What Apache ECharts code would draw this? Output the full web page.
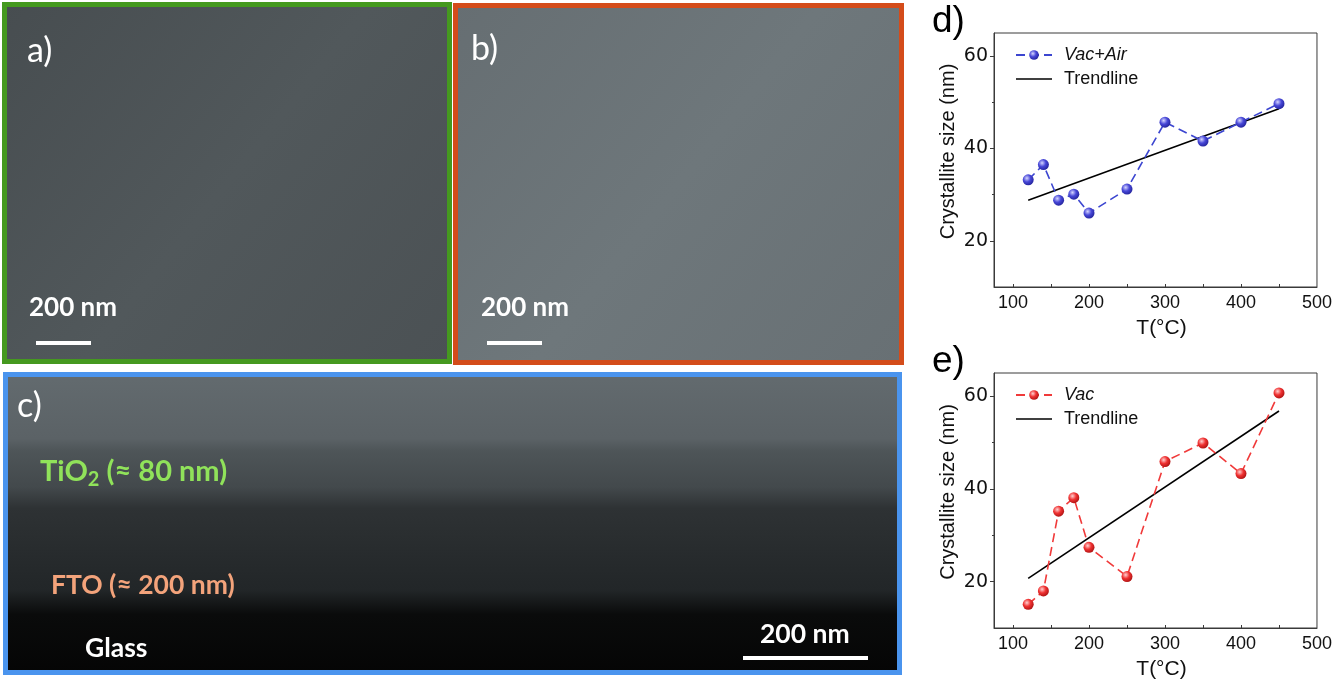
<!DOCTYPE html>
<html>
<head>
<meta charset="utf-8">
<script src="https://cdn.jsdelivr.net/npm/echarts@6/dist/echarts.min.js"></script>
<style>
html,body{margin:0;padding:0;background:#fff;}
#chart{width:1335px;height:681px;}
</style>
</head>
<body>
<div id="chart"></div>
<script>
// ---- Data ----
const temperatures = [120, 140, 160, 180, 200, 250, 300, 350, 400, 450];
const vacAirSize = [33.2, 36.5, 28.8, 30.1, 26.0, 31.2, 45.7, 41.6, 45.7, 49.7];
const vacSize = [15.1, 18.0, 35.2, 38.1, 27.4, 21.1, 45.9, 49.9, 43.3, 60.7];
const trendVacAirX = [120, 450];
const trendVacAirY = [28.8, 48.6];
const trendVacX = [120, 450];
const trendVacY = [20.7, 56.8];
const xLabelValues = [100, 200, 300, 400, 500];
const xTickValues = [100, 150, 200, 250, 300, 350, 400, 450];
const yLabelValues = [20, 40, 60];
const yMinorTicks = [30, 50];

const pairs = (xs, ys) => xs.map((x, i) => [x, ys[i]]);

const chart = echarts.init(document.getElementById('chart'), null, {renderer: 'canvas'});
const AX = '#3a3a3a';
const FONT = '"Liberation Sans", Arial, sans-serif';
const YFONT = '"DejaVu Sans", sans-serif';
const LBL = '"Lato", "Open Sans", sans-serif';

function ballGradient(light, mid, dark) {
  return {type: 'radial', x: 0.38, y: 0.35, r: 0.75,
    colorStops: [{offset: 0, color: light}, {offset: 0.45, color: mid}, {offset: 1, color: dark}]};
}

function xAxis(g) {
  return {
    type: 'value', gridIndex: g, min: 75, max: 500,
    axisLine: {show: true, lineStyle: {color: AX, width: 1}},
    axisTick: {show: true, inside: true, length: 3, customValues: xTickValues, lineStyle: {color: AX}},
    axisLabel: {customValues: xLabelValues, fontSize: 18, color: '#111', fontFamily: FONT, margin: 7},
    splitLine: {show: false},
    name: 'T(°C)', nameLocation: 'middle', nameGap: 31,
    nameTextStyle: {fontSize: 21, color: '#111', fontFamily: FONT, padding: [0, 0, 0, 12]}
  };
}
function yAxes(g) {
  return [{
    type: 'value', gridIndex: g, min: 10, max: 65, position: 'left',
    axisLine: {show: true, lineStyle: {color: AX, width: 1}},
    axisTick: {show: true, inside: false, length: 4, customValues: yLabelValues, lineStyle: {color: AX}},
    axisLabel: {customValues: yLabelValues, fontSize: 19, color: '#111', fontFamily: YFONT, margin: 6},
    splitLine: {show: false},
    name: 'Crystallite size (nm)', nameLocation: 'middle', nameGap: 36,
    nameTextStyle: {fontSize: 20, color: '#111', fontFamily: FONT, padding: [0, 0, 0, 17]}
  }, {
    type: 'value', gridIndex: g, min: 10, max: 65, position: 'left', offset: 0,
    axisLine: {show: false},
    axisTick: {show: true, inside: false, length: 2, customValues: yMinorTicks, lineStyle: {color: AX}},
    axisLabel: {show: false},
    splitLine: {show: false}
  }];
}

function dataSeries(name, xi, yi, ys, lineColor, ball) {
  return {
    name: name, type: 'line', xAxisIndex: xi, yAxisIndex: yi,
    data: pairs(temperatures, ys),
    symbol: 'circle', symbolSize: 11,
    lineStyle: {color: lineColor, width: 1.6, type: [9, 5]},
    itemStyle: {color: ball, borderWidth: 0},
    z: 3
  };
}
function trendSeries(xi, yi, xs, ys) {
  return {
    name: 'Trendline', type: 'line', xAxisIndex: xi, yAxisIndex: yi,
    data: pairs(xs, ys), symbol: 'none',
    lineStyle: {color: '#000', width: 1.6, type: 'solid'},
    itemStyle: {color: '#000'}, z: 2
  };
}

const blueBall = ballGradient('#d6d6ff', '#4848d8', '#1c1c90');
const redBall = ballGradient('#ffd0d0', '#f03232', '#a00c0c');

// Decorative panel elements (SEM image frames and labels)
function panelText(x, y, text, size, color, bold) {
  return {
    type: 'text', x: x, y: y, silent: true, z: 20,
    style: {text: text, fill: color, fontSize: size, fontFamily: LBL,
      fontWeight: bold ? 'bold' : 'normal', verticalAlign: 'middle', align: 'left'}
  };
}
function bar(x1, x2, y) {
  return {type: 'rect', silent: true, z: 20, shape: {x: x1, y: y - 2, width: x2 - x1, height: 4}, style: {fill: '#fff'}};
}
const gradA = {type: 'linear', x: 0, y: 0, x2: 1, y2: 1, colorStops: [
  {offset: 0, color: '#474d50'}, {offset: 0.5, color: '#51585b'}, {offset: 1, color: '#4b5154'}]};
const gradB = {type: 'linear', x: 0, y: 0, x2: 1, y2: 1, colorStops: [
  {offset: 0, color: '#666e72'}, {offset: 0.5, color: '#6e777b'}, {offset: 1, color: '#687074'}]};
const gradC = {type: 'linear', x: 0, y: 0, x2: 0, y2: 1, colorStops: [
  {offset: 0, color: '#636b6f'}, {offset: 0.22, color: '#5b6266'}, {offset: 0.26, color: '#4e5558'},
  {offset: 0.38, color: '#43494c'}, {offset: 0.45, color: '#2e3234'}, {offset: 0.72, color: '#222628'},
  {offset: 0.8, color: '#0a0b0b'}, {offset: 1, color: '#050505'}]};

const graphics = [
  {type: 'rect', silent: true, z: 10, shape: {x: 4.5, y: 4.5, width: 445, height: 357},
    style: {fill: gradA, stroke: '#45991f', lineWidth: 5}},
  {type: 'rect', silent: true, z: 10, shape: {x: 455.5, y: 5.5, width: 446, height: 357},
    style: {fill: gradB, stroke: '#d44c1a', lineWidth: 5}},
  {type: 'rect', silent: true, z: 10, shape: {x: 5.5, y: 374.5, width: 894, height: 298},
    style: {fill: gradC, stroke: '#4a94ee', lineWidth: 5}},
  panelText(27, 51, 'a)', 34, '#fff', false),
  panelText(29, 308, '200 nm', 26, '#fff', true),
  bar(36, 91, 343),
  panelText(471, 49, 'b)', 34, '#fff', false),
  panelText(481, 308, '200 nm', 26, '#fff', true),
  bar(487, 542, 343),
  panelText(17, 406, 'c)', 34, '#fff', false),
  {type: 'text', x: 40, y: 472, silent: true, z: 20,
    style: {text: 'TiO{sub|2} (≈ 80 nm)', fill: '#90e25a', fontSize: 29, fontFamily: LBL, fontWeight: 'bold',
      verticalAlign: 'middle', rich: {sub: {fontSize: 20, fontWeight: 'bold', fill: '#90e25a', fontFamily: LBL, padding: [16, 0, 0, 0]}}}},
  panelText(51, 585, 'FTO (≈ 200 nm)', 26.5, '#f3a37b', true),
  panelText(85, 648, 'Glass', 26.5, '#fff', true),
  panelText(760, 634, '200 nm', 26.5, '#fff', true),
  bar(743, 868, 658),
  {type: 'text', x: 932, y: 22, silent: true, z: 20,
    style: {text: 'd)', fill: '#000', fontSize: 37, fontFamily: FONT, verticalAlign: 'middle'}},
  {type: 'text', x: 932, y: 362, silent: true, z: 20,
    style: {text: 'e)', fill: '#000', fontSize: 37, fontFamily: FONT, verticalAlign: 'middle'}}
];

const trendIcon = 'path://M0,0 L36,0 L36,1.6 L0,1.6 Z';
function legend(top, firstName) {
  return {
    orient: 'vertical', left: 1010, top: top, itemWidth: 36, itemHeight: 12, itemGap: 6,
    textStyle: {fontSize: 18, color: '#111', fontFamily: FONT, padding: [0, 0, 0, 7]},
    data: [{name: firstName, textStyle: {fontStyle: 'italic'}},
           {name: 'Trendline', icon: trendIcon, itemStyle: {color: '#000'}}],
    selectedMode: false
  };
}

const [yd, ydMinor] = yAxes(0);
const [ye, yeMinor] = yAxes(1);

chart.setOption({
  animation: false,
  backgroundColor: '#fff',
  graphic: graphics,
  grid: [
    {left: 994, top: 33, width: 323, height: 254, show: true, borderColor: AX, borderWidth: 1, backgroundColor: 'transparent'},
    {left: 994, top: 373, width: 323, height: 255, show: true, borderColor: AX, borderWidth: 1, backgroundColor: 'transparent'}
  ],
  legend: [legend(41, 'Vac+Air'), legend(381, 'Vac')],
  xAxis: [xAxis(0), xAxis(1)],
  yAxis: [yd, ydMinor, ye, yeMinor],
  series: [
    dataSeries('Vac+Air', 0, 0, vacAirSize, '#3c46d0', blueBall),
    trendSeries(0, 0, trendVacAirX, trendVacAirY),
    dataSeries('Vac', 1, 2, vacSize, '#f03a3a', redBall),
    trendSeries(1, 2, trendVacX, trendVacY)
  ]
});
</script>
</body>
</html>
